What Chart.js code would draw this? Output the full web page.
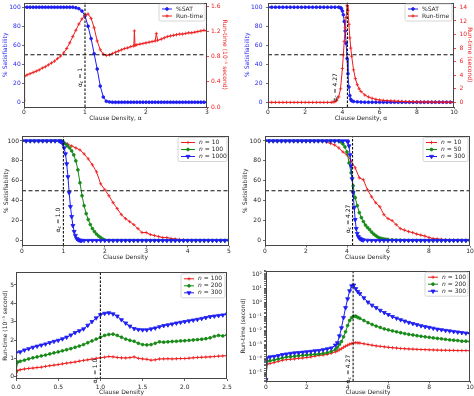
<!DOCTYPE html>
<html>
<head>
<meta charset="utf-8">
<script src="https://cdn.jsdelivr.net/npm/chart.js@4.4.1/dist/chart.umd.min.js"></script>
<style>
  html, body { margin: 0; padding: 0; background: #fff; width: 474px; height: 396px; overflow: hidden; }
  canvas { position: absolute; }
</style>
</head>
<body>
<canvas id="satRun2" width="237" height="132" style="left:0;top:0"></canvas>
<canvas id="satRun3" width="237" height="132" style="left:237px;top:0"></canvas>
<canvas id="sat2" width="237" height="132" style="left:0;top:132px"></canvas>
<canvas id="sat3" width="237" height="132" style="left:237px;top:132px"></canvas>
<canvas id="run2" width="237" height="132" style="left:0;top:264px"></canvas>
<canvas id="run3" width="237" height="132" style="left:237px;top:264px"></canvas>
<script>
/* ============================
   Data
   ============================ */

const satThreshold = 50;
const alphaC2 = 1.0;
const alphaC3 = 4.27;

// top-left: 2-SAT, %SAT vs run-time (10^-1 s)
const p1Density = [0, 0.05, 0.1, 0.15, 0.2, 0.25, 0.3, 0.35, 0.4, 0.45, 0.5, 0.55, 0.6, 0.65, 0.7, 0.75, 0.8,
  0.85, 0.9, 0.95, 1, 1.05, 1.1, 1.15, 1.2, 1.25, 1.3, 1.35, 1.4,
  1.45, 1.5, 1.55, 1.6, 1.65, 1.7, 1.75, 1.8, 1.85, 1.9, 1.95, 2, 2.05, 2.1, 2.15, 2.2,
  2.25, 2.3, 2.35, 2.4, 2.45, 2.5, 2.55, 2.6, 2.65, 2.7, 2.75, 2.8, 2.85, 2.9, 2.95, 3];
const p1Sat = [100, 100, 100, 100, 100, 100, 100, 100, 100, 100, 100, 100, 100, 100, 100, 100, 100,
  99.5, 98.5, 96, 91, 80, 67, 51, 35, 17, 5.5, 1, 0.3,
  0, 0, 0, 0, 0, 0, 0, 0, 0, 0, 0, 0, 0, 0, 0, 0,
  0, 0, 0, 0, 0, 0, 0, 0, 0, 0, 0, 0, 0, 0, 0, 0];
const p1RunDensity = [0, 0.01, 0.05, 0.1, 0.15, 0.2, 0.25, 0.3, 0.35, 0.4, 0.45, 0.5,
  0.55, 0.6, 0.65, 0.7, 0.75, 0.8, 0.85, 0.9, 0.95, 1,
  1.05, 1.1, 1.15, 1.2, 1.25, 1.3, 1.35, 1.4, 1.45, 1.5,
  1.55, 1.6, 1.65, 1.7, 1.75, 1.8, 1.81, 1.82,
  1.85, 1.9, 1.95, 2, 2.05, 2.1, 2.15, 2.17, 2.19,
  2.25, 2.3, 2.35, 2.4, 2.45, 2.5, 2.55, 2.6, 2.65, 2.7, 2.75, 2.8, 2.85, 2.9, 2.95, 3];
const p1Run = [0.1, 0.49, 0.51, 0.53, 0.55, 0.57, 0.59, 0.62, 0.64, 0.67, 0.70, 0.73,
  0.77, 0.81, 0.86, 0.93, 1.02, 1.12, 1.22, 1.32, 1.40, 1.46,
  1.48, 1.41, 1.26, 1.05, 0.91, 0.84, 0.82, 0.83, 0.85, 0.87,
  0.89, 0.91, 0.93, 0.94, 0.96, 0.97, 1.21, 0.98,
  0.99, 1.00, 1.01, 1.02, 1.03, 1.04, 1.05, 1.17, 1.06,
  1.08, 1.10, 1.12, 1.13, 1.14, 1.15, 1.16, 1.16, 1.17, 1.18, 1.18, 1.19, 1.20, 1.21, 1.22, 1.21];

// top-right: 3-SAT, %SAT vs run-time (s)
const p2Density = [0, 0.2, 0.4, 0.6, 0.8, 1, 1.2, 1.4, 1.6, 1.8, 2, 2.2, 2.4, 2.6, 2.8, 3, 3.2, 3.4, 3.6, 3.8,
  3.9, 3.95, 4, 4.05, 4.1, 4.15, 4.2, 4.25, 4.3, 4.35, 4.4, 4.45, 4.5, 4.6, 4.8,
  5, 5.2, 5.4, 5.6, 5.8, 6, 6.2, 6.4, 6.6, 6.8, 7, 7.2, 7.4, 7.6, 7.8, 8, 8.2, 8.4, 8.6, 8.8, 9, 9.2, 9.4, 9.6, 9.8, 10];
const p2Sat = [100, 100, 100, 100, 100, 100, 100, 100, 100, 100, 100, 100, 100, 100, 100, 100, 100, 100, 100, 100,
  99.5, 98.5, 96, 92, 85, 75, 62, 46, 30, 16, 7, 3, 1.5, 0.8, 0.4,
  0.2, 0, 0, 0, 0, 0, 0, 0, 0, 0, 0, 0, 0, 0, 0, 0, 0, 0, 0, 0, 0, 0, 0, 0, 0, 0];
const p2RunDensity = [0, 0.2, 0.4, 0.6, 0.8, 1, 1.2, 1.4, 1.6, 1.8, 2, 2.2, 2.4, 2.6, 2.8, 3, 3.2, 3.4,
  3.5, 3.6, 3.7, 3.8, 3.9, 4, 4.05, 4.1, 4.15, 4.2, 4.25, 4.3, 4.35, 4.4, 4.45, 4.5,
  4.6, 4.7, 4.8, 4.9, 5, 5.2, 5.4, 5.6, 5.8, 6,
  6.2, 6.4, 6.6, 6.8, 7, 7.2, 7.4, 7.6, 7.8, 8, 8.2, 8.4, 8.6, 8.8, 9, 9.2, 9.4, 9.6, 9.8, 10];
const p2Run = [0, 0, 0, 0, 0, 0, 0, 0, 0, 0, 0, 0, 0, 0, 0, 0, 0, 0,
  0.05, 0.1, 0.3, 0.8, 2.0, 5.0, 7, 9, 11, 12.5, 14.3, 13.5, 11.5, 9.5, 8, 6.8,
  4.8, 3.5, 2.6, 2.0, 1.6, 1.1, 0.8, 0.6, 0.45, 0.35,
  0.3, 0.26, 0.22, 0.19, 0.16, 0.14, 0.12, 0.1, 0.09, 0.08, 0.07, 0.06, 0.05, 0.05, 0.04, 0.04, 0.03, 0.03, 0.03, 0.02];

// middle-left: 2-SAT satisfiability for n = 10 / 100 / 1000
const p3Labels = ['n = 10', 'n = 100', 'n = 1000'];
const p3DensityA = [0, 0.1, 0.2, 0.3, 0.4, 0.5, 0.6, 0.7, 0.8, 0.9,
  1, 1.1, 1.2, 1.3, 1.4, 1.5, 1.6, 1.7, 1.8, 1.9, 2, 2.1, 2.2, 2.3, 2.4, 2.5, 2.6, 2.7, 2.8, 2.9,
  3, 3.1, 3.2, 3.3, 3.4, 3.5, 3.6, 3.7, 3.8, 3.9, 4, 4.1, 4.2, 4.3, 4.4, 4.5, 4.6, 4.7, 4.8, 4.9, 5];
const p3SatA = [100, 100, 100, 100, 100, 100, 100, 100, 100, 100,
  99, 97, 95, 93, 91, 87, 82, 76, 69, 57, 51, 45, 38, 32, 26, 22, 19, 16, 12, 8,
  8, 6, 5, 4, 3, 3, 2, 1.5, 1, 0.5, 0, 0, 0, 0, 0, 0, 0, 0, 0, 0, 0];
const p3DensityB = [0, 0.1, 0.2, 0.3, 0.4, 0.5, 0.6, 0.7, 0.8, 0.9,
  0.95, 1, 1.05, 1.1, 1.15, 1.2, 1.25, 1.3, 1.35, 1.4, 1.45, 1.5, 1.55, 1.6, 1.65, 1.7, 1.75, 1.8, 1.85, 1.9, 1.95, 2,
  2.1, 2.2, 2.3, 2.4, 2.5, 2.6, 2.7, 2.8, 2.9, 3, 3.1, 3.2, 3.3, 3.4, 3.5, 3.6, 3.7, 3.8, 3.9, 4,
  4.1, 4.2, 4.3, 4.4, 4.5, 4.6, 4.7, 4.8, 4.9, 5];
const p3SatB = [100, 100, 100, 100, 100, 100, 100, 100, 100, 100,
  100, 99, 97, 95, 93, 90, 86, 80, 71, 58, 45, 35, 27, 21, 16, 12, 9, 6.5, 4.5, 3, 1.5, 0.5,
  0, 0, 0, 0, 0, 0, 0, 0, 0, 0, 0, 0, 0, 0, 0, 0, 0, 0, 0, 0,
  0, 0, 0, 0, 0, 0, 0, 0, 0, 0];
const p3DensityC = [0, 0.1, 0.2, 0.3, 0.4, 0.5, 0.6, 0.7, 0.8, 0.9,
  0.93, 0.96, 0.99, 1.02, 1.05, 1.08, 1.11, 1.14, 1.17, 1.2, 1.23, 1.26, 1.29, 1.32, 1.35, 1.38, 1.41, 1.44,
  1.5, 1.6, 1.7, 1.8, 1.9, 2, 2.1, 2.2, 2.3, 2.4, 2.5, 2.6, 2.7, 2.8, 2.9, 3, 3.1, 3.2,
  3.3, 3.4, 3.5, 3.6, 3.7, 3.8, 3.9, 4, 4.1, 4.2, 4.3, 4.4, 4.5, 4.6, 4.7, 4.8, 4.9, 5];
const p3SatC = [100, 100, 100, 100, 100, 100, 100, 100, 100, 100,
  99.5, 99, 97, 93, 87, 77, 64, 48, 34, 24, 15, 9, 5, 2, 1, 0.4, 0.1, 0,
  0, 0, 0, 0, 0, 0, 0, 0, 0, 0, 0, 0, 0, 0, 0, 0, 0, 0,
  0, 0, 0, 0, 0, 0, 0, 0, 0, 0, 0, 0, 0, 0, 0, 0, 0, 0];

// middle-right: 3-SAT satisfiability for n = 10 / 50 / 300
const p4Labels = ['n = 10', 'n = 50', 'n = 300'];
const p4DensityA = [0, 0.2, 0.4, 0.6, 0.8, 1, 1.2, 1.4, 1.6, 1.8, 2, 2.2, 2.4, 2.6, 2.8,
  3, 3.2, 3.4, 3.6, 3.8, 4, 4.2, 4.4, 4.6, 4.8, 5, 5.2, 5.4, 5.6, 5.8, 6, 6.2, 6.4, 6.6, 6.8,
  7, 7.2, 7.4, 7.6, 7.8, 8, 8.2, 8.4, 8.6, 8.8, 9, 9.2, 9.4, 9.6, 9.8, 10];
const p4SatA = [100, 100, 100, 100, 100, 100, 100, 100, 100, 100, 100, 100, 100, 100, 100,
  99, 97.5, 96, 93, 89, 86, 80, 73, 63, 61, 51, 44, 38, 34, 26, 22, 20, 16, 12, 10.5,
  9, 8, 6.5, 5.5, 4.5, 3, 2, 1.6, 1.2, 0.8, 0.5, 0.3, 0.2, 0.1, 0.05, 0];
const p4DensityB = [0, 0.2, 0.4, 0.6, 0.8, 1, 1.2, 1.4, 1.6, 1.8, 2, 2.2, 2.4, 2.6, 2.8, 3, 3.2, 3.4, 3.6,
  3.7, 3.8, 3.9, 4, 4.1, 4.2, 4.3, 4.4, 4.5, 4.6, 4.7, 4.8, 4.9, 5, 5.1, 5.2, 5.3, 5.4, 5.5, 5.6, 5.7, 5.8, 5.9, 6,
  6.2, 6.4, 6.6, 6.8, 7, 7.2, 7.4, 7.6, 7.8, 8, 8.2, 8.4, 8.6, 8.8, 9, 9.2, 9.4, 9.6, 9.8, 10];
const p4SatB = [100, 100, 100, 100, 100, 100, 100, 100, 100, 100, 100, 100, 100, 100, 100, 100, 100, 100, 100,
  99, 97, 94, 89, 78, 68, 55, 43, 35, 28, 23, 19, 15.5, 13, 11, 8.5, 6.5, 5, 3.5, 2.5, 2, 1.5, 1.2, 1,
  0.7, 0.5, 0.3, 0.2, 0.1, 0, 0, 0, 0, 0, 0, 0, 0, 0, 0, 0, 0, 0, 0, 0];
const p4DensityC = [0, 0.2, 0.4, 0.6, 0.8, 1, 1.2, 1.4, 1.6, 1.8, 2, 2.2, 2.4, 2.6, 2.8, 3, 3.2, 3.4, 3.6, 3.8, 4,
  4.05, 4.1, 4.15, 4.2, 4.25, 4.3, 4.35, 4.4, 4.45, 4.5, 4.55, 4.6, 4.65, 4.7, 4.75, 4.8,
  5, 5.2, 5.4, 5.6, 5.8, 6, 6.2, 6.4, 6.6, 6.8, 7, 7.2, 7.4, 7.6, 7.8, 8, 8.2, 8.4, 8.6, 8.8, 9, 9.2, 9.4, 9.6, 9.8, 10];
const p4SatC = [100, 100, 100, 100, 100, 100, 100, 100, 100, 100, 100, 100, 100, 100, 100, 100, 100, 100, 100, 100, 100,
  99, 95, 86, 75, 62, 48, 33, 21, 12, 7, 4, 2.5, 1.7, 1, 0.7, 0.5,
  0.2, 0, 0, 0, 0, 0, 0, 0, 0, 0, 0, 0, 0, 0, 0, 0, 0, 0, 0, 0, 0, 0, 0, 0, 0, 0];

// bottom-left: 2-SAT run-time (10^-3 s) for n = 100 / 200 / 300
const p5Labels = ['n = 100', 'n = 200', 'n = 300'];
const p5DensityAB = [0, 0.02, 0.05, 0.1, 0.15, 0.2, 0.25, 0.3, 0.35, 0.4, 0.45, 0.5,
  0.55, 0.6, 0.65, 0.7, 0.75, 0.8, 0.85, 0.9, 0.95, 1,
  1.05, 1.1, 1.15, 1.2, 1.25, 1.3, 1.35, 1.4, 1.45, 1.5,
  1.55, 1.6, 1.65, 1.7, 1.75, 1.8, 1.85, 1.9, 1.95, 2,
  2.05, 2.1, 2.15, 2.2, 2.25, 2.3, 2.35, 2.4, 2.45, 2.5];
const p5RunA = [0.05, 0.33, 0.38, 0.42, 0.45, 0.47, 0.5, 0.52, 0.56, 0.6, 0.63, 0.66,
  0.7, 0.74, 0.77, 0.8, 0.85, 0.89, 0.92, 0.96, 1.0, 1.03,
  1.06, 1.1, 1.08, 1.05, 1.03, 1.02, 1.04, 1.08, 1.0, 0.97,
  0.95, 0.9, 0.92, 0.97, 0.97, 0.98, 0.97, 0.98, 0.99, 0.99,
  1.01, 1.03, 1.05, 1.06, 1.07, 1.08, 1.1, 1.12, 1.13, 1.15];
const p5RunB = [0.3, 0.8, 0.84, 0.9, 0.97, 1.03, 1.08, 1.13, 1.18, 1.24, 1.3, 1.35,
  1.41, 1.47, 1.53, 1.6, 1.67, 1.75, 1.85, 1.95, 2.05, 2.15,
  2.25, 2.3, 2.32, 2.25, 2.15, 2.05, 1.98, 1.93, 1.82, 1.75,
  1.73, 1.75, 1.82, 1.9, 1.88, 1.9, 1.92, 1.93, 1.95, 1.96,
  1.98, 2.0, 2.02, 2.04, 2.07, 2.12, 2.2, 2.25, 2.22, 2.28];
const p5DensityC = [0, 0.05, 0.1, 0.15, 0.2, 0.25, 0.3, 0.35, 0.4, 0.45, 0.5,
  0.55, 0.6, 0.65, 0.7, 0.75, 0.8, 0.85, 0.9, 0.95, 1,
  1.05, 1.1, 1.15, 1.2, 1.25, 1.3, 1.35, 1.4, 1.45, 1.5,
  1.55, 1.6, 1.65, 1.7, 1.75, 1.8, 1.85, 1.9, 1.95, 2,
  2.05, 2.1, 2.15, 2.2, 2.25, 2.3, 2.35, 2.4, 2.45, 2.5];
const p5RunC = [1.3, 1.35, 1.45, 1.52, 1.6, 1.66, 1.72, 1.78, 1.85, 1.92, 1.98,
  2.06, 2.15, 2.27, 2.4, 2.5, 2.6, 2.8, 3.0, 3.2, 3.38,
  3.45, 3.48, 3.42, 3.3, 3.1, 2.92, 2.75, 2.62, 2.57, 2.55,
  2.55, 2.6, 2.65, 2.72, 2.78, 2.82, 2.87, 2.92, 2.96, 3.0,
  3.04, 3.08, 3.12, 3.17, 3.22, 3.27, 3.3, 3.33, 3.36, 3.4];

// bottom-right: 3-SAT run-time (s, log scale) for n = 100 / 200 / 300
const p6Labels = ['n = 100', 'n = 200', 'n = 300'];
const p6Density = [0, 0.05, 0.2, 0.4, 0.6, 0.8, 1, 1.2, 1.4, 1.6, 1.8, 2, 2.2, 2.4, 2.6, 2.8, 3, 3.2, 3.4,
  3.5, 3.6, 3.7, 3.8, 3.9, 4, 4.1, 4.2, 4.3, 4.4, 4.5, 4.6, 4.8,
  5, 5.2, 5.4, 5.6, 5.8, 6, 6.2, 6.4, 6.6, 6.8, 7, 7.2, 7.4, 7.6, 7.8, 8, 8.2, 8.4, 8.6, 8.8, 9, 9.2, 9.4, 9.6, 9.8, 10];
const p6RunA = [3.2e-6, 4.0e-5, 4.5e-5, 5.2e-5, 6.3e-5, 7.6e-5, 8.5e-5, 8.9e-5, 9.5e-5, 1.05e-4, 1.1e-4,
  1.2e-4, 1.3e-4, 1.5e-4, 1.7e-4, 1.8e-4, 2.0e-4, 2.4e-4, 3.0e-4,
  3.5e-4, 4.2e-4, 5.0e-4, 6.3e-4, 7.6e-4, 8.9e-4, 1.05e-3, 1.17e-3, 1.3e-3, 1.35e-3, 1.3e-3, 1.26e-3, 1.12e-3,
  1.0e-3, 8.9e-4, 7.9e-4, 7.4e-4, 6.8e-4, 6.3e-4, 5.9e-4, 5.6e-4, 5.2e-4, 5.0e-4, 4.8e-4, 4.7e-4, 4.5e-4,
  4.4e-4, 4.3e-4, 4.2e-4, 4.1e-4, 4.0e-4, 3.9e-4, 3.9e-4, 3.8e-4, 3.8e-4, 3.7e-4, 3.7e-4, 3.7e-4, 3.6e-4];
const p6RunB = [3.2e-6, 6.3e-5, 7.1e-5, 7.9e-5, 9.3e-5, 1.1e-4, 1.3e-4, 1.35e-4, 1.45e-4, 1.6e-4, 1.7e-4,
  1.8e-4, 1.9e-4, 2.0e-4, 2.1e-4, 2.3e-4, 2.6e-4, 3.2e-4, 4.4e-4,
  6.3e-4, 1.0e-3, 1.6e-3, 3.5e-3, 7.9e-3, 0.022, 0.05, 0.079, 0.1, 0.1, 0.083, 0.071, 0.05,
  0.035, 0.026, 0.02, 0.016, 0.0126, 0.0107, 0.0091, 0.0079, 0.0068, 0.0059, 0.0052, 0.0047, 0.0042,
  0.0038, 0.0035, 0.0032, 0.0029, 0.0027, 0.0025, 0.0023, 0.0021, 0.002, 0.0019, 0.0017, 0.0017, 0.0016];
const p6RunC = [3.2e-6, 1.1e-4, 1.3e-4, 1.4e-4, 1.6e-4, 1.9e-4, 2.1e-4, 2.3e-4, 2.5e-4, 2.6e-4, 2.8e-4,
  3.0e-4, 3.2e-4, 3.5e-4, 3.7e-4, 4.2e-4, 4.8e-4, 5.6e-4, 8.9e-4,
  1.3e-3, 4.0e-3, 1.5e-2, 0.08, 0.4, 1.7, 6.3, 14, 16, 8.9, 5.6, 4.0, 2.0,
  1.0, 0.6, 0.4, 0.26, 0.18, 0.13, 0.095, 0.072, 0.056, 0.045, 0.036, 0.03, 0.025,
  0.021, 0.018, 0.016, 0.014, 0.012, 0.011, 0.0098, 0.009, 0.0082, 0.0075, 0.0069, 0.0063, 0.0058];

/* ============================
   Style
   ============================ */

const INK = '#454545';
const TEXT = '#262626';
const RED = '#ee1c1c';
const GREEN = '#168a16';
const BLUE = '#1e1ef2';
const FAMILY = '"DejaVu Sans", sans-serif';

Chart.defaults.font.family = FAMILY;
Chart.defaults.font.size = 6;
Chart.defaults.color = TEXT;

const markers = {
  dot: { pointStyle: 'circle', pointRadius: 1.4, pointRotation: 0 },
  plus: { pointStyle: 'cross', pointRadius: 1.7, pointRotation: 0 },
  tri: { pointStyle: 'triangle', pointRadius: 2.3, pointRotation: 180 },
};

const SUP = { '-': '⁻', '0': '⁰', '1': '¹', '2': '²', '3': '³', '4': '⁴', '5': '⁵', '6': '⁶', '7': '⁷', '8': '⁸', '9': '⁹' };

function powerLabel(v) {
  const e = Math.log10(v);
  const r = Math.round(e);
  if (Math.abs(e - r) > 1e-6) return '';
  return '10' + String(r).split('').map(c => SUP[c]).join('');
}

function pairs(xs, ys) {
  return xs.map((x, i) => ({ x, y: ys[i] }));
}

function series(label, xs, ys, color, marker, order, axisId) {
  return {
    label,
    data: pairs(xs, ys),
    borderColor: color,
    backgroundColor: color,
    pointBackgroundColor: color,
    pointBorderColor: color,
    borderWidth: 1,
    pointBorderWidth: 0.8,
    pointHoverRadius: 0,
    ...markers[marker],
    order,
    yAxisID: axisId || 'y'
  };
}

function guide(points, dash, axisId) {
  return {
    data: points,
    borderColor: '#111',
    borderWidth: 1.1,
    borderDash: dash,
    pointRadius: 0,
    order: 0,
    yAxisID: axisId || 'y'
  };
}

function axis(o) {
  const a = {
    type: o.type || 'linear',
    position: o.position,
    min: o.min,
    max: o.max,
    border: { display: false },
    grid: { drawOnChartArea: false, drawTicks: true, tickLength: 2, color: o.tick || INK, lineWidth: 0.8 },
    ticks: { includeBounds: false, autoSkip: false, maxRotation: 0, padding: o.pad, color: o.color || TEXT },
    title: { display: true, text: o.title, color: o.color || TEXT, padding: { top: o.tpad, bottom: o.tpad } },
    afterFit(s) {
      if (s.isHorizontal()) s.height = o.size; else s.width = o.size;
      s.paddingTop = s.paddingBottom = s.paddingLeft = s.paddingRight = 0;
    }
  };
  if (o.step) a.ticks.stepSize = o.step;
  if (o.fmt) a.ticks.callback = o.fmt;
  return a;
}

/* ============================
   Plugins: frame, alpha_c label, boxed legend
   ============================ */

const framePlugin = {
  id: 'frame',
  afterDatasetsDraw(chart) {
    const { ctx, chartArea: a } = chart;
    ctx.save();
    ctx.strokeStyle = INK;
    ctx.lineWidth = 1;
    ctx.strokeRect(Math.round(a.left) + 0.5, Math.round(a.top) + 0.5, Math.round(a.width) - 1, Math.round(a.height) - 1);
    ctx.restore();
  }
};

const critPlugin = {
  id: 'critLabel',
  afterDatasetsDraw(chart, args, o) {
    if (o.at === undefined) return;
    const { ctx } = chart;
    const px = chart.scales.x.getPixelForValue(o.at) + o.dx;
    const py = chart.scales.y.getPixelForValue(o.y);
    const parts = [['α', '6px ' + FAMILY, 0], ['c', '4.5px ' + FAMILY, 1.4], [o.rest, '6px ' + FAMILY, 0]];
    ctx.save();
    ctx.translate(px, py);
    ctx.rotate(-Math.PI / 2);
    ctx.fillStyle = '#111';
    ctx.textBaseline = 'middle';
    let w = 0;
    parts.forEach(p => { ctx.font = p[1]; w += ctx.measureText(p[0]).width; });
    let cx = -w / 2;
    parts.forEach(p => {
      ctx.font = p[1];
      ctx.fillText(p[0], cx, p[2]);
      cx += ctx.measureText(p[0]).width;
    });
    ctx.restore();
  }
};

const legendPlugin = {
  id: 'boxLegend',
  afterDraw(chart, args, o) {
    const items = chart.data.datasets.filter(d => d.label);
    if (!items.length || !o.width) return;
    const { ctx, chartArea: a } = chart;
    const rowH = 7;
    const x0 = a.right - 2 - o.width;
    const y0 = a.top + 1.5;
    const h = items.length * rowH + 3;
    ctx.save();
    ctx.beginPath();
    if (ctx.roundRect) ctx.roundRect(x0, y0, o.width, h, 1.5); else ctx.rect(x0, y0, o.width, h);
    ctx.fillStyle = 'rgba(255,255,255,0.85)';
    ctx.fill();
    ctx.strokeStyle = '#cccccc';
    ctx.lineWidth = 0.8;
    ctx.stroke();
    items.forEach((d, i) => {
      const cy = y0 + 5 + i * rowH;
      const lx = x0 + 3;
      ctx.strokeStyle = d.borderColor;
      ctx.fillStyle = d.borderColor;
      ctx.lineWidth = 1;
      ctx.beginPath();
      ctx.moveTo(lx, cy);
      ctx.lineTo(lx + o.sample, cy);
      ctx.stroke();
      ctx.lineWidth = d.pointBorderWidth;
      Chart.helpers.drawPoint(ctx, {
        pointStyle: d.pointStyle, radius: d.pointRadius, rotation: d.pointRotation, borderWidth: d.pointBorderWidth
      }, lx + o.sample / 2, cy);
      ctx.fillStyle = TEXT;
      ctx.textBaseline = 'middle';
      let tx = lx + o.sample + 4;
      const m = /^n( .*)$/.exec(d.label);
      if (m) {
        ctx.font = 'italic 6px ' + FAMILY;
        ctx.fillText('n', tx, cy);
        tx += ctx.measureText('n').width;
        ctx.font = '6px ' + FAMILY;
        ctx.fillText(m[1], tx, cy);
      } else {
        ctx.font = '6px ' + FAMILY;
        ctx.fillText(d.label, tx, cy);
      }
    });
    ctx.restore();
  }
};

Chart.register(framePlugin, critPlugin, legendPlugin);

function build(id, o) {
  return new Chart(document.getElementById(id), {
    type: 'line',
    data: { datasets: o.datasets },
    options: {
      responsive: false,
      animation: false,
      devicePixelRatio: 1,
      layout: { padding: o.padding },
      scales: o.scales,
      plugins: {
        legend: { display: false },
        tooltip: { enabled: false },
        boxLegend: o.legend,
        critLabel: o.crit
      }
    }
  });
}

const oneDecimal = v => v.toFixed(1);

/* ============================
   Panels
   ============================ */

build('satRun2', {
  padding: { top: 0, right: 8, bottom: 10, left: 0 },
  datasets: [
    series('%SAT', p1Density, p1Sat, BLUE, 'dot', 2),
    series('Run-time', p1RunDensity, p1Run, RED, 'plus', 1, 'y1'),
    guide([{ x: 0, y: satThreshold }, { x: 3, y: satThreshold }], [4, 2.5]),
    guide([{ x: alphaC2, y: -5 }, { x: alphaC2, y: 105 }], [2.5, 1.5])
  ],
  scales: {
    x: axis({ position: 'bottom', min: 0, max: 3, step: 1, size: 15, pad: 0.3, tpad: 0.1, title: 'Clause Density, α' }),
    y: axis({ position: 'left', min: -5, max: 105, step: 20, size: 24, pad: 1.3, tpad: 1.4, title: '% Satisfiability', color: BLUE }),
    y1: axis({ position: 'right', min: 0, max: 1.662, step: 0.4, size: 22, pad: 2, tpad: 0.4, title: 'Run-time (10⁻¹ second)', color: RED, tick: RED, fmt: oneDecimal })
  },
  legend: { width: 46, sample: 10 },
  crit: { at: alphaC2, y: 26, dx: -5, rest: ' = 1' }
});

build('satRun3', {
  padding: { top: 0, right: 0, bottom: 10, left: 0 },
  datasets: [
    series('%SAT', p2Density, p2Sat, BLUE, 'dot', 2),
    series('Run-time', p2RunDensity, p2Run, RED, 'plus', 1, 'y1'),
    guide([{ x: 0, y: satThreshold }, { x: 10, y: satThreshold }], [4, 2.5]),
    guide([{ x: alphaC3, y: -5 }, { x: alphaC3, y: 105 }], [2.5, 1.5])
  ],
  scales: {
    x: axis({ position: 'bottom', min: 0, max: 10, step: 2, size: 15, pad: 0.3, tpad: 0.1, title: 'Clause Density, α' }),
    y: axis({ position: 'left', min: -5, max: 105, step: 20, size: 31, pad: 3.5, tpad: 6.4, title: '% Satisfiability', color: BLUE }),
    y1: axis({ position: 'right', min: -0.68, max: 14.72, step: 2, size: 20, pad: 3.5, tpad: 0.4, title: 'Run-time (second)', color: RED, tick: RED })
  },
  legend: { width: 47, sample: 10 },
  crit: { at: alphaC3, y: 15.6, dx: -12, rest: ' = 4.27' }
});

build('sat2', {
  padding: { top: 4, right: 8, bottom: 3.1, left: 0 },
  datasets: [
    series(p3Labels[0], p3DensityA, p3SatA, RED, 'plus', 3),
    series(p3Labels[1], p3DensityB, p3SatB, GREEN, 'dot', 2),
    series(p3Labels[2], p3DensityC, p3SatC, BLUE, 'tri', 1),
    guide([{ x: 0, y: satThreshold }, { x: 5, y: satThreshold }], [4, 2.5]),
    guide([{ x: alphaC2, y: -5 }, { x: alphaC2, y: 105 }], [2.5, 1.5])
  ],
  scales: {
    x: axis({ position: 'bottom', min: 0, max: 5, step: 1, size: 15.4, pad: 0, tpad: 0, title: 'Clause Density' }),
    y: axis({ position: 'left', min: -5, max: 105, step: 20, size: 22, pad: 1, tpad: 3.1, title: '% Satisfiability' })
  },
  legend: { width: 49, sample: 14 },
  crit: { at: alphaC2, y: 20.6, dx: -5, rest: ' = 1.0' }
});

build('sat3', {
  padding: { top: 4, right: 4, bottom: 3.1, left: 0 },
  datasets: [
    series(p4Labels[0], p4DensityA, p4SatA, RED, 'plus', 3),
    series(p4Labels[1], p4DensityB, p4SatB, GREEN, 'dot', 2),
    series(p4Labels[2], p4DensityC, p4SatC, BLUE, 'tri', 1),
    guide([{ x: 0, y: satThreshold }, { x: 10, y: satThreshold }], [4, 2.5]),
    guide([{ x: alphaC3, y: -5 }, { x: alphaC3, y: 105 }], [2.5, 1.5])
  ],
  scales: {
    x: axis({ position: 'bottom', min: 0, max: 10, step: 2, size: 15.4, pad: 0, tpad: 0, title: 'Clause Density' }),
    y: axis({ position: 'left', min: -5, max: 105, step: 20, size: 28, pad: 2, tpad: 4.7, title: '% Satisfiability' })
  },
  legend: { width: 45, sample: 11 },
  crit: { at: alphaC3, y: 21.6, dx: -4.5, rest: ' = 4.27' }
});

build('run2', {
  padding: { top: 8.3, right: 10, bottom: 0, left: 0 },
  datasets: [
    series(p5Labels[0], p5DensityAB, p5RunA, RED, 'plus', 3),
    series(p5Labels[1], p5DensityAB, p5RunB, GREEN, 'dot', 2),
    series(p5Labels[2], p5DensityC, p5RunC, BLUE, 'tri', 1),
    guide([{ x: alphaC2, y: -0.125 }, { x: alphaC2, y: 5.69 }], [2.5, 1.5])
  ],
  scales: {
    x: axis({ position: 'bottom', min: 0, max: 2.5, step: 0.5, size: 17, pad: 2.7, tpad: 0, title: 'Clause Density', fmt: oneDecimal }),
    y: axis({ position: 'left', min: -0.125, max: 5.69, step: 1, size: 16, pad: 0, tpad: 1.4, title: 'Run-time (10⁻³ second)' })
  },
  legend: { width: 44, sample: 10 },
  crit: { at: alphaC2, y: 0.31, dx: -5, rest: ' = 1.0' }
});

build('run3', {
  padding: { top: 6.7, right: 4, bottom: 0, left: 0 },
  datasets: [
    series(p6Labels[0], p6Density, p6RunA, RED, 'plus', 3),
    series(p6Labels[1], p6Density, p6RunB, GREEN, 'dot', 2),
    series(p6Labels[2], p6Density, p6RunC, BLUE, 'tri', 1),
    guide([{ x: alphaC3, y: 2.45e-6 }, { x: alphaC3, y: 170 }], [2.5, 1.5])
  ],
  scales: {
    x: axis({ position: 'bottom', min: 0, max: 10, step: 2, size: 14.7, pad: 0.4, tpad: 0, title: 'Clause Density' }),
    y: axis({ type: 'logarithmic', position: 'left', min: 2.45e-6, max: 170, size: 29, pad: 2, tpad: 3.1, title: 'Run-time (second)', fmt: powerLabel })
  },
  legend: { width: 43, sample: 10 },
  crit: { at: alphaC3, y: 1.8e-5, dx: -5, rest: ' = 4.27' }
});
</script>
</body>
</html>
